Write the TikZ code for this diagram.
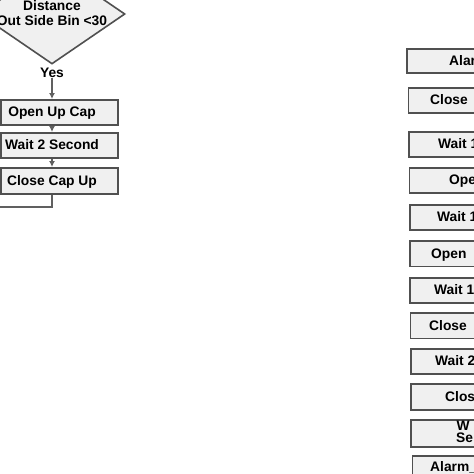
\documentclass[tikz,border=0pt]{standalone}
\usepackage{fontspec}
\setmainfont{Liberation Sans}
\usetikzlibrary{shapes.geometric,arrows.meta}
\definecolor{boxfill}{HTML}{F0F0F0}
\definecolor{boxline}{HTML}{505050}
\definecolor{arrcol}{HTML}{606060}
\tikzset{
  box/.style={draw=boxline, fill=boxfill, line width=1.6pt, inner sep=0pt, rectangle},
  dia/.style={draw=boxline, fill=boxfill, line width=1.6pt, inner sep=0pt, diamond, minimum width=146pt, minimum height=100pt},
  txt/.style={font=\fontsize{13.8}{15}\selectfont\bfseries, inner sep=0pt, text=black},
  arr/.style={draw=arrcol, line width=1.2pt, -{Latex[length=6pt,width=6pt]}},
  ln/.style={draw=arrcol, line width=1.4pt}
}
\begin{document}
\begin{tikzpicture}[x=1pt,y=-1pt]
\useasboundingbox (0,0) rectangle (474,474);
\clip (0,0) rectangle (474,474);
\fill[white] (0,0) rectangle (474,474);
% left column
\node[dia] (d) at (52,14) {};
\node[txt, anchor=base] (dt1) at (52,10) {Distance};
\node[txt, anchor=base] (dt2) at (52,25) {Out Side Bin <30};
\node[txt, anchor=base, fill=white, inner sep=1pt] (yes) at (52,77) {Yes};
\coordinate (cx) at (52,0);
\node[box, anchor=north west, minimum width=116.5pt, minimum height=25pt] (b1) at (0.5,99) {};
\node[box, anchor=north west, minimum width=116.5pt, minimum height=25pt] (b2) at (0.5,132) {};
\node[box, anchor=north west, minimum width=116.5pt, minimum height=26pt] (b3) at (0.5,167) {};
\node[txt, anchor=base] (bt1) at (52,116.5) {Open Up Cap};
\node[txt, anchor=base] (bt2) at (52,149.5) {Wait 2 Second};
\node[txt, anchor=base] (bt3) at (52,185) {Close Cap Up};
\draw[arr] (yes.south) -- (yes.south |- b1.north);
\draw[arr] (b1.south -| cx) -- (b2.north -| cx);
\draw[arr] (b2.south -| cx) -- (b3.north -| cx);
\coordinate (e1) at (52,207);
\coordinate (e2) at (-5,207);
\draw[ln] (b3.south -| cx) -- (e1) -- (e2);
% right column (cut off at the image edge)
\node[box, anchor=north west, minimum width=140pt, minimum height=24pt] (r1) at (406,48) {};
\node[box, anchor=north west, minimum width=140pt, minimum height=25pt] (r2) at (407.5,87) {};
\node[box, anchor=north west, minimum width=140pt, minimum height=25pt] (r3) at (408,131) {};
\node[box, anchor=north west, minimum width=140pt, minimum height=25pt] (r4) at (408.5,167) {};
\node[box, anchor=north west, minimum width=140pt, minimum height=25pt] (r5) at (409,204) {};
\node[box, anchor=north west, minimum width=140pt, minimum height=25.5pt] (r6) at (409,240) {};
\node[box, anchor=north west, minimum width=140pt, minimum height=25pt] (r7) at (409,277) {};
\node[box, anchor=north west, minimum width=140pt, minimum height=25.5pt] (r8) at (409.5,312) {};
\node[box, anchor=north west, minimum width=140pt, minimum height=25pt] (r9) at (410,348) {};
\node[box, anchor=north west, minimum width=140pt, minimum height=26pt] (r10) at (410,383) {};
\node[box, anchor=north west, minimum width=140pt, minimum height=27pt] (r11) at (410,419) {};
\node[box, anchor=north west, minimum width=140pt, minimum height=40pt] (r12) at (411.5,455) {};
\node[txt, anchor=base west] (rt1) at (449,65) {Alar};
\node[txt, anchor=base west] (rt2) at (430,104.5) {Close};
\node[txt, anchor=base west] (rt3) at (438,148.5) {Wait 1};
\node[txt, anchor=base west] (rt4) at (449,184.5) {Ope};
\node[txt, anchor=base west] (rt5) at (437,221.5) {Wait 1};
\node[txt, anchor=base west] (rt6) at (431,258) {Open};
\node[txt, anchor=base west] (rt7) at (434,294.5) {Wait 1};
\node[txt, anchor=base west] (rt8) at (429,330) {Close};
\node[txt, anchor=base west] (rt9) at (435,365.5) {Wait 2};
\node[txt, anchor=base west] (rt10) at (445,401) {Clos};
\node[txt, anchor=base west] (rt11a) at (456.5,430) {W};
\node[txt, anchor=base west] (rt11b) at (456,442.5) {Se};
\node[txt, anchor=base west] (rt12) at (430,471) {Alarm\_};
\end{tikzpicture}
\end{document}
